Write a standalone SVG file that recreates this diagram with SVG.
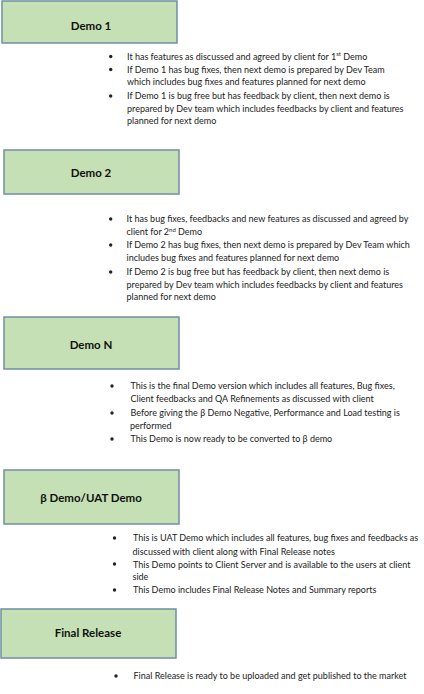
<svg xmlns="http://www.w3.org/2000/svg" width="424" height="694" viewBox="0 0 424 694">
<style>
.box{fill:#c5e0b4;stroke:#6f8ea3;stroke-width:1.5}
.h{font-family:"Lato","Liberation Sans",sans-serif;font-weight:bold;font-size:11.5px;fill:#111;text-anchor:middle}
.t{font-family:"Lato","Liberation Sans",sans-serif;font-size:9px;fill:#222}
.b{fill:#222}
.sup{font-size:6px}
</style>
<rect width="424" height="694" fill="#fff"/>
<g id="connectors"/>
<g id="demo1">
<rect class="box" x="2" y="1" width="175" height="42"/>
<text class="h" x="91" y="30">Demo 1</text>
</g>
<g id="demo1-notes">
<circle class="b" cx="110.7" cy="56.5" r="1.7"/>
<circle class="b" cx="110.7" cy="69.5" r="1.7"/>
<circle class="b" cx="110.7" cy="96" r="1.7"/>
<text class="t" x="127" y="59.5">It has features as discussed and agreed by client for 1<tspan class="sup" dy="-3.5">st</tspan><tspan dy="3.5"> Demo</tspan></text>
<text class="t" x="127" y="72.5">If Demo 1 has bug fixes, then next demo is prepared by Dev Team</text>
<text class="t" x="127" y="85">which includes bug fixes and features planned for next demo</text>
<text class="t" x="127" y="99">If Demo 1 is bug free but has feedback by client, then next demo is</text>
<text class="t" x="127" y="111.5">prepared by Dev team which includes feedbacks by client and features</text>
<text class="t" x="127" y="124">planned for next demo</text>
</g>
<g id="demo2">
<rect class="box" x="4" y="150" width="175" height="44"/>
<text class="h" x="91" y="177">Demo 2</text>
</g>
<g id="demo2-notes">
<circle class="b" cx="110.7" cy="219" r="1.7"/>
<circle class="b" cx="110.7" cy="245" r="1.7"/>
<circle class="b" cx="110.7" cy="272" r="1.7"/>
<text class="t" x="126.5" y="222">It has bug fixes, feedbacks and new features as discussed and agreed by</text>
<text class="t" x="126.5" y="235">client for 2<tspan class="sup" dy="-3.5">nd</tspan><tspan dy="3.5"> Demo</tspan></text>
<text class="t" x="126.5" y="248">If Demo 2 has bug fixes, then next demo is prepared by Dev Team which</text>
<text class="t" x="126.5" y="261">includes bug fixes and features planned for next demo</text>
<text class="t" x="126.5" y="275">If Demo 2 is bug free but has feedback by client, then next demo is</text>
<text class="t" x="126.5" y="287.5">prepared by Dev team which includes feedbacks by client and features</text>
<text class="t" x="126.5" y="300">planned for next demo</text>
</g>
<g id="demoN">
<rect class="box" x="4" y="317" width="175" height="52"/>
<text class="h" x="91" y="349">Demo N</text>
</g>
<g id="demoN-notes">
<circle class="b" cx="112" cy="386" r="1.7"/>
<circle class="b" cx="112" cy="413" r="1.7"/>
<circle class="b" cx="112" cy="439" r="1.7"/>
<text class="t" x="130.5" y="389">This is the final Demo version which includes all features, Bug fixes,</text>
<text class="t" x="130.5" y="402">Client feedbacks and QA Refinements as discussed  with client</text>
<text class="t" x="130.5" y="416">Before giving the β Demo Negative, Performance and Load testing is</text>
<text class="t" x="130" y="429">performed</text>
<text class="t" x="130.5" y="442">This Demo is now ready to be converted to β demo</text>
</g>
<g id="beta">
<rect class="box" x="4" y="470" width="175" height="54"/>
<text class="h" x="91" y="502">β Demo/UAT Demo</text>
</g>
<g id="beta-notes">
<circle class="b" cx="114.5" cy="538" r="1.7"/>
<circle class="b" cx="114.5" cy="564" r="1.7"/>
<circle class="b" cx="114.5" cy="590" r="1.7"/>
<text class="t" x="133" y="541">This is UAT Demo which includes all features, bug fixes and feedbacks as</text>
<text class="t" x="132.5" y="555">discussed with client along with Final Release notes</text>
<text class="t" x="133" y="567.5">This Demo points to Client Server and is available to the users at client</text>
<text class="t" x="132.5" y="580">side</text>
<text class="t" x="133" y="593">This Demo includes Final Release Notes and Summary reports</text>
</g>
<g id="final">
<rect class="box" x="1" y="609" width="175" height="49"/>
<text class="h" x="88" y="637">Final Release</text>
</g>
<g id="final-notes">
<circle class="b" cx="116" cy="676" r="1.7"/>
<text class="t" x="133.5" y="679">Final Release is ready to be uploaded and get published to the market</text>
</g>
</svg>
